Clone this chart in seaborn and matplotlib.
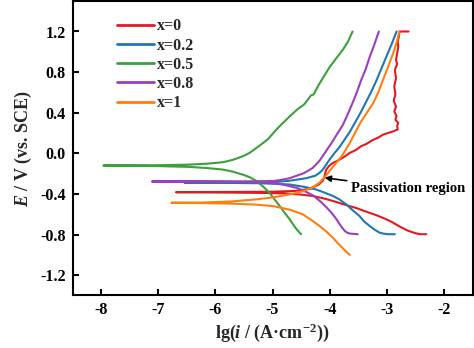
import matplotlib
matplotlib.use("Agg")
import matplotlib.pyplot as plt
import seaborn as sns
import pandas as pd

sns.set_theme(style="ticks")
plt.rcParams['font.family'] = ['Liberation Serif', 'DejaVu Serif']
plt.rcParams['font.weight'] = 'bold'
plt.rcParams['mathtext.fontset'] = 'custom'
plt.rcParams['mathtext.rm'] = 'Liberation Serif:bold'
plt.rcParams['mathtext.it'] = 'Liberation Serif:bold:italic'
plt.rcParams['mathtext.bf'] = 'Liberation Serif:bold'

labels = ["x=0", "x=0.2", "x=0.5", "x=0.8", "x=1"]
colors = ["#e3191f", "#1f77b4", "#3ca03c", "#9b3fbd", "#ff7f0e"]

# x=0 (red): cathodic end -> Ecorr -> anodic end
logi_0 = [-2.31, -2.40, -2.48, -2.56, -2.64, -2.78, -2.90, -3.01, -3.18, -3.36, -3.53, -3.65,
          -3.80, -3.94, -4.10, -4.30, -4.53, -4.80, -5.2, -5.7, -6.2, -6.69,
          -6.2, -5.6, -5.0, -4.6, -4.35, -4.20, -4.12, -4.09, -4.08, -4.06, -4.02, -3.96,
          -3.88, -3.76, -3.65, -3.55, -3.45, -3.35, -3.25, -3.15, -3.07, -2.98, -2.89,
          -2.81, -2.82, -2.80, -2.85, -2.83, -2.87, -2.84, -2.88, -2.85, -2.87, -2.84,
          -2.86, -2.82, -2.84, -2.83, -2.80, -2.81, -2.79, -2.78, -2.70, -2.62]
E_0 = [-0.797, -0.797, -0.79, -0.776, -0.76, -0.72, -0.68, -0.65, -0.61, -0.575, -0.54, -0.52,
       -0.495, -0.47, -0.445, -0.42, -0.405, -0.395, -0.39, -0.387, -0.385, -0.383,
       -0.381, -0.380, -0.378, -0.37, -0.35, -0.31, -0.27, -0.23, -0.20, -0.16, -0.13, -0.10,
       -0.078, -0.04, 0.004, 0.03, 0.07, 0.095, 0.13, 0.155, 0.183, 0.20, 0.216,
       0.235, 0.27, 0.30, 0.33, 0.37, 0.41, 0.46, 0.52, 0.58, 0.66, 0.74,
       0.82, 0.88, 0.92, 0.95, 1.05, 1.10, 1.15, 1.2, 1.2, 1.2]

# x=0.2 (blue)
logi_02 = [-2.86, -2.98, -3.07, -3.13, -3.22, -3.30, -3.40, -3.48, -3.60, -3.71, -3.83, -3.94,
           -4.10, -4.24, -4.45, -4.70, -5.2, -5.8, -6.54,
           -6.0, -5.3, -4.9, -4.70, -4.41, -4.25, -4.18, -4.12, -4.06, -4.0, -3.92, -3.83,
           -3.74, -3.65, -3.56, -3.46, -3.36, -3.27, -3.18, -3.10, -3.01, -2.92, -2.83]
E_02 = [-0.797, -0.797, -0.79, -0.781, -0.75, -0.716, -0.67, -0.617, -0.56, -0.503, -0.454, -0.421,
        -0.385, -0.356, -0.33, -0.307, -0.295, -0.291, -0.29,
        -0.289, -0.286, -0.28, -0.27, -0.245, -0.22, -0.193, -0.16, -0.11, -0.06, 0.0, 0.06,
        0.135, 0.21, 0.30, 0.40, 0.51, 0.61, 0.72, 0.83, 0.95, 1.07, 1.2]

# x=0.5 (green)
logi_05 = [-4.50, -4.58, -4.64, -4.70, -4.79, -4.88, -4.97, -5.05, -5.17, -5.29, -5.40, -5.52,
           -5.70, -5.87, -6.15, -6.45, -7.0, -7.5, -7.96,
           -7.5, -7.0, -6.45, -6.15, -5.87, -5.70, -5.52, -5.40, -5.29, -5.17, -5.08, -4.97,
           -4.88, -4.78, -4.67, -4.55, -4.45, -4.38, -4.33, -4.28, -4.21, -4.10, -4.0, -3.88,
           -3.77, -3.68, -3.60]
E_05 = [-0.797, -0.748, -0.70, -0.65, -0.585, -0.515, -0.45, -0.39, -0.325, -0.27, -0.235, -0.21,
        -0.18, -0.16, -0.145, -0.134, -0.126, -0.122, -0.12,
        -0.119, -0.117, -0.111, -0.102, -0.088, -0.065, -0.029, 0.005, 0.05, 0.10, 0.14, 0.21,
        0.265, 0.32, 0.38, 0.44, 0.48, 0.53, 0.57, 0.58, 0.657, 0.76, 0.85, 0.94,
        1.02, 1.10, 1.2]

# x=0.8 (purple)
logi_08 = [-3.51, -3.65, -3.70, -3.74, -3.80, -3.88, -3.97, -4.06, -4.15, -4.29, -4.45, -4.58,
           -4.80, -4.99, -5.5, -6.3, -7.11,
           -6.3, -5.5, -4.99, -4.85, -4.70, -4.45, -4.30, -4.18, -4.09, -3.97, -3.87,
           -3.77, -3.68, -3.59, -3.52, -3.45, -3.37, -3.30, -3.22, -3.14]
E_08 = [-0.797, -0.79, -0.78, -0.762, -0.72, -0.65, -0.585, -0.53, -0.48, -0.415, -0.37, -0.34,
        -0.31, -0.29, -0.283, -0.279, -0.277,
        -0.277, -0.276, -0.273, -0.262, -0.245, -0.195, -0.145, -0.075, 0.0, 0.10, 0.19,
        0.28, 0.39, 0.51, 0.61, 0.72, 0.83, 0.95, 1.07, 1.2]

# x=1 (orange)
logi_1 = [-3.65, -3.71, -3.77, -3.85, -3.94, -4.06, -4.18, -4.30, -4.47, -4.70, -4.99, -5.3,
          -5.75, -6.25, -6.77,
          -6.25, -5.75, -5.29, -5.0, -4.70, -4.45, -4.30, -4.18, -4.06, -3.94, -3.85, -3.77,
          -3.65, -3.55, -3.45, -3.35, -3.24, -3.15, -3.07, -2.98, -2.89, -2.83, -2.78]
E_1 = [-1.0, -0.97, -0.935, -0.89, -0.835, -0.77, -0.715, -0.665, -0.601, -0.555, -0.52, -0.505,
       -0.495, -0.49, -0.487,
       -0.485, -0.475, -0.454, -0.435, -0.405, -0.37, -0.335, -0.29, -0.215, -0.13, -0.07, -0.013,
       0.10, 0.21, 0.314, 0.40, 0.494, 0.60, 0.72, 0.85, 0.985, 1.09, 1.2]

series = [(logi_0, E_0), (logi_02, E_02), (logi_05, E_05), (logi_08, E_08), (logi_1, E_1)]

frames = []
for lab, (xs, ys) in zip(labels, series):
    frames.append(pd.DataFrame({"logi": xs, "E": ys, "sample": lab}))
df = pd.concat(frames, ignore_index=True)

fig = plt.figure(figsize=(4.74, 3.48), dpi=100)
ax = fig.add_axes([0.153, 0.151, 0.844, 0.846])

sns.lineplot(data=df, x="logi", y="E", hue="sample", hue_order=labels,
             palette=colors, sort=False, estimator=None, units="sample",
             linewidth=1.5, ax=ax, legend=True)

ax.set_xlim(-8.5, -1.5)
ax.set_ylim(-1.4, 1.5)
ax.set_xticks([-8, -7, -6, -5, -4, -3, -2])
ax.set_yticks([-1.2, -0.8, -0.4, 0.0, 0.4, 0.8, 1.2])
ax.set_yticklabels(["-1.2", "-0.8", "-0.4", "0.0", "0.4", "0.8", "1.2"])
ax.set_xticklabels(["-8", "-7", "-6", "-5", "-4", "-3", "-2"])

for s in ax.spines.values():
    s.set_linewidth(1.5)
    s.set_color("black")
    s.set_visible(True)
ax.tick_params(direction="in", length=4, width=1.5, labelsize=11.5, colors="black",
               top=False, right=False, pad=5)
for t in ax.get_xticklabels() + ax.get_yticklabels():
    t.set_fontweight("bold")

ax.set_xlabel(r"lg($\mathit{i}$ / (A·cm$^{-2}$))", fontsize=13, fontweight="bold", labelpad=2)
ax.set_ylabel(r"$\mathit{E}$ / V (vs. SCE)", fontsize=13, fontweight="bold", labelpad=4)

leg = ax.legend(loc="upper left", bbox_to_anchor=(0.095, 0.963), frameon=False,
                prop={"family": "Liberation Serif", "weight": "bold", "size": 11.5},
                handlelength=2.3, handletextpad=0.2, labelspacing=0.2, borderaxespad=0)
for line in leg.get_lines():
    line.set_linewidth(2.0)

ax.annotate("Passivation region", xy=(-4.09, -0.241), xytext=(-3.62, -0.349),
            fontsize=10.5, fontweight="bold", color="black", va="center", ha="left",
            arrowprops=dict(arrowstyle="-|>", color="black", lw=1.2, mutation_scale=9,
                            shrinkA=1, shrinkB=0))

fig.savefig("out.png", dpi=100)
